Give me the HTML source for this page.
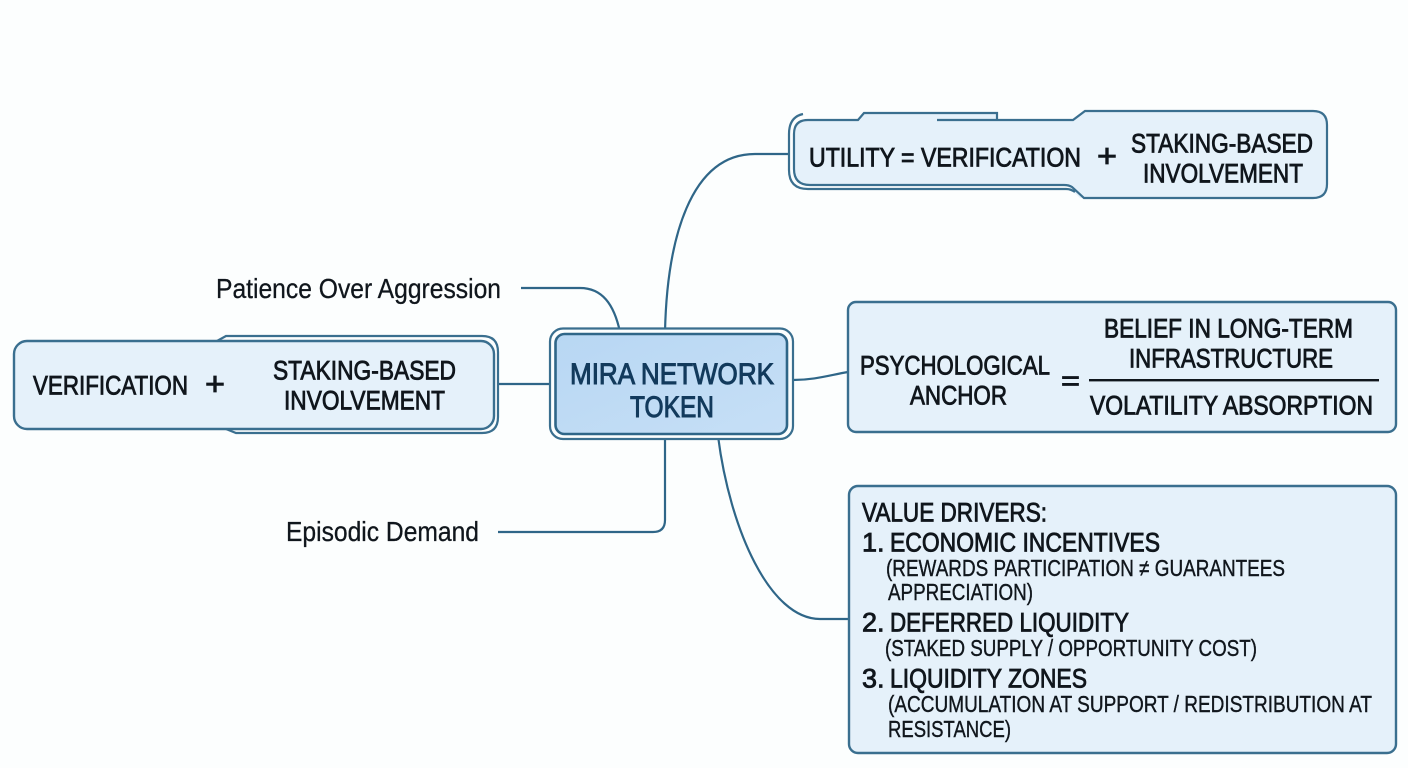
<!DOCTYPE html>
<html><head><meta charset="utf-8">
<style>
html,body{margin:0;padding:0;background:#fcfefe;width:1408px;height:768px;overflow:hidden}
svg{display:block}
text{font-family:"Liberation Sans",sans-serif;fill:#10161c;stroke:#10161c;stroke-width:.85}
.c{font-size:27px}
.s{font-size:23.5px;stroke-width:.4}
.l{font-size:27.5px;stroke-width:.3}
.line{fill:none;stroke:#2f6688;stroke-width:2.2}
.box{fill:#e5f1fa;stroke:#3a6f8f;stroke-width:2.4}
</style></head><body>
<svg width="1408" height="768" viewBox="0 0 1408 768" xmlns="http://www.w3.org/2000/svg">
<defs><linearGradient id="g" x1="0" y1="0" x2="1" y2="1"><stop offset="0" stop-color="#b8d7f3"/><stop offset="1" stop-color="#c6dff6"/></linearGradient></defs>
<rect width="1408" height="768" fill="#fcfefe"/>

<!-- connectors -->
<path class="line" d="M665 332C667 240 690 154 755 154H789"/>
<path class="line" d="M521 288H580C602 288 614 304 620 332"/>
<path class="line" d="M497 384H551"/>
<path class="line" d="M665 436V520Q665 532 653 532H498"/>
<path class="line" d="M718 436C730 530 770 619 820 619H849"/>
<path class="line" d="M793 380C815 380 830 375 848 372"/>

<!-- utility box -->
<path d="M808 120H860L864 113H997V120H1073L1085 111H1313Q1327 111 1327 125V184Q1327 198 1313 198H1080L1066 185H810Q794 185 794 169V134Q794 120 808 120Z" fill="#e5f1fa"/>
<path class="line" style="stroke:#3a6f8f" d="M937 120H1073L1085 111H1313Q1327 111 1327 125V184Q1327 198 1313 198H1084L1072 187Q1069 185 1064 185H810Q794 185 794 169V134Q794 120 808 120H858L864 113H997V120"/>
<path class="line" style="stroke:#3a6f8f" d="M803 114Q789 117 789 134V170Q789 189 808 189H1066Q1071 189 1075 192"/>

<!-- left box -->
<path class="line" style="stroke:#3a6f8f" d="M217 341L226 336H482Q498 336 498 352V417Q498 433 482 433H236L226 429"/>
<rect x="14" y="341" width="480" height="88" rx="13" fill="#e5f1fa" stroke="#3a6f8f" stroke-width="2.4"/>

<!-- central -->
<rect x="550" y="328.500" width="243" height="110.500" rx="13" fill="#fcfefe" stroke="#3a6f8f" stroke-width="2.2"/>
<rect x="555.500" y="334" width="231.500" height="100" rx="9" fill="url(#g)" stroke="#2f6688" stroke-width="2.6"/>

<!-- right boxes -->
<rect class="box" x="848" y="302" width="548" height="130" rx="8"/>
<rect class="box" x="849" y="486" width="547" height="267" rx="9"/>

<!-- labels -->
<text class="c" x="809" y="166.500" textLength="272" lengthAdjust="spacingAndGlyphs">UTILITY = VERIFICATION</text>
<text x="1097" y="167" style="font-size:32px" textLength="20" lengthAdjust="spacingAndGlyphs">+</text>
<text class="c" x="1131" y="152.500" textLength="182" lengthAdjust="spacingAndGlyphs">STAKING-BASED</text>
<text class="c" x="1143" y="182.500" textLength="160" lengthAdjust="spacingAndGlyphs">INVOLVEMENT</text>

<text class="l" x="216" y="298" textLength="285" lengthAdjust="spacingAndGlyphs">Patience Over Aggression</text>
<text class="l" x="286" y="541" textLength="193" lengthAdjust="spacingAndGlyphs">Episodic Demand</text>

<text class="c" x="33" y="394.500" textLength="155" lengthAdjust="spacingAndGlyphs">VERIFICATION</text>
<text x="205" y="395" style="font-size:32px" textLength="20" lengthAdjust="spacingAndGlyphs">+</text>
<text class="c" x="273" y="379.500" textLength="183" lengthAdjust="spacingAndGlyphs">STAKING-BASED</text>
<text class="c" x="284" y="409.500" textLength="161" lengthAdjust="spacingAndGlyphs">INVOLVEMENT</text>

<text x="570" y="384" style="font-size:30px;fill:#123a5c;stroke:#123a5c;stroke-width:1" textLength="204" lengthAdjust="spacingAndGlyphs">MIRA NETWORK</text>
<text x="630" y="417" style="font-size:30px;fill:#123a5c;stroke:#123a5c;stroke-width:1" textLength="84" lengthAdjust="spacingAndGlyphs">TOKEN</text>

<text class="c" x="860" y="374.500" textLength="190" lengthAdjust="spacingAndGlyphs">PSYCHOLOGICAL</text>
<text class="c" x="910" y="404.500" textLength="97" lengthAdjust="spacingAndGlyphs">ANCHOR</text>
<text x="1061" y="390" style="font-size:28px" textLength="19" lengthAdjust="spacingAndGlyphs">=</text>
<text class="c" x="1104" y="337.500" textLength="249" lengthAdjust="spacingAndGlyphs">BELIEF IN LONG-TERM</text>
<text class="c" x="1129" y="367.500" textLength="204" lengthAdjust="spacingAndGlyphs">INFRASTRUCTURE</text>
<rect x="1089" y="379" width="290" height="2.400" fill="#10161c"/>
<text class="c" x="1090" y="414.500" textLength="283" lengthAdjust="spacingAndGlyphs">VOLATILITY ABSORPTION</text>

<text class="c" x="862" y="521.500" textLength="185" lengthAdjust="spacingAndGlyphs">VALUE DRIVERS:</text>
<text class="c" x="862" y="551.500">1.</text>
<text class="c" x="890" y="551.500" textLength="270" lengthAdjust="spacingAndGlyphs">ECONOMIC INCENTIVES</text>
<text class="s" x="886" y="576" textLength="399" lengthAdjust="spacingAndGlyphs">(REWARDS PARTICIPATION ≠ GUARANTEES</text>
<text class="s" x="888" y="600" textLength="145" lengthAdjust="spacingAndGlyphs">APPRECIATION)</text>
<text class="c" x="862" y="631.500">2.</text>
<text class="c" x="890" y="631.500" textLength="239" lengthAdjust="spacingAndGlyphs">DEFERRED LIQUIDITY</text>
<text class="s" x="885" y="656" textLength="372" lengthAdjust="spacingAndGlyphs">(STAKED SUPPLY / OPPORTUNITY COST)</text>
<text class="c" x="862" y="687.500">3.</text>
<text class="c" x="890" y="687.500" textLength="197" lengthAdjust="spacingAndGlyphs">LIQUIDITY ZONES</text>
<text class="s" x="888" y="712" textLength="484" lengthAdjust="spacingAndGlyphs">(ACCUMULATION AT SUPPORT / REDISTRIBUTION AT</text>
<text class="s" x="888" y="737" textLength="123" lengthAdjust="spacingAndGlyphs">RESISTANCE)</text>
</svg>
</body></html>
